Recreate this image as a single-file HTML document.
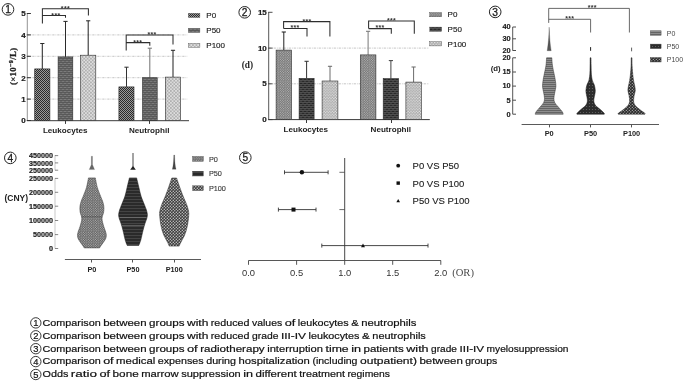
<!DOCTYPE html>
<html><head><meta charset="utf-8"><title>Figure</title>
<style>
html,body{margin:0;padding:0;background:#fff;}
body{width:685px;height:382px;overflow:hidden;}
svg{display:block;}
</style></head><body>
<svg width="685" height="382" viewBox="0 0 685 382">
<defs>
<pattern id="c1p0" width="2" height="2" patternUnits="userSpaceOnUse"><rect width="2" height="2" fill="#9a9a9a"/><rect width="1" height="1" fill="#2a2a2a"/><rect x="1" y="1" width="1" height="1" fill="#2a2a2a"/></pattern>
<pattern id="c1p50" width="4" height="4" patternUnits="userSpaceOnUse"><rect width="4" height="4" fill="#7c7c7c"/><path d="M0 0.4H4M0 2.4H4M1 0.4V2.4M3 2.4V4.4" stroke="#484848" stroke-width="0.7" fill="none"/></pattern>
<pattern id="c1p100" width="3.4" height="3.4" patternUnits="userSpaceOnUse"><rect width="3.4" height="3.4" fill="#b0b0b0"/><circle cx="0.9" cy="0.9" r="0.8" fill="#f2f2f2"/><circle cx="2.6" cy="2.6" r="0.8" fill="#f2f2f2"/></pattern>
<pattern id="c2p0" width="2.4" height="2.4" patternUnits="userSpaceOnUse"><rect width="2.4" height="2.4" fill="#6e6e6e"/><circle cx="0.6" cy="0.6" r="0.55" fill="#cfcfcf"/><circle cx="1.8" cy="1.8" r="0.55" fill="#cfcfcf"/></pattern>
<pattern id="c2p50" width="4" height="4" patternUnits="userSpaceOnUse"><rect width="4" height="4" fill="#262626"/><path d="M0 0.4H4M0 2.4H4M1 0.4V2.4M3 2.4V4.4" stroke="#6a6a6a" stroke-width="0.6" fill="none"/></pattern>
<pattern id="c2p100" width="2.8" height="2.8" patternUnits="userSpaceOnUse"><rect width="2.8" height="2.8" fill="#a6a6a6"/><circle cx="0.7" cy="0.7" r="0.75" fill="#e6e6e6"/><circle cx="2.1" cy="2.1" r="0.75" fill="#e6e6e6"/></pattern>
<pattern id="c3p0" width="2" height="2" patternUnits="userSpaceOnUse"><rect width="2" height="2" fill="#8e8e8e"/><rect width="2" height="1" fill="#646464"/></pattern>
<pattern id="c3p50" width="3" height="3" patternUnits="userSpaceOnUse"><rect width="3" height="3" fill="#2c2c2c"/><circle cx="1.5" cy="1.5" r="0.6" fill="#666"/></pattern>
<pattern id="c3p100" width="3" height="3" patternUnits="userSpaceOnUse"><rect width="3" height="3" fill="#2a2a2a"/><circle cx="0.8" cy="0.8" r="0.6" fill="#c8c8c8"/><circle cx="2.3" cy="2.3" r="0.6" fill="#c8c8c8"/></pattern>
<pattern id="c4p0" width="2.4" height="2.4" patternUnits="userSpaceOnUse"><rect width="2.4" height="2.4" fill="#585858"/><circle cx="0.6" cy="0.6" r="0.55" fill="#d0d0d0"/><circle cx="1.8" cy="1.8" r="0.55" fill="#d0d0d0"/></pattern>
<pattern id="c4p50" width="3" height="3" patternUnits="userSpaceOnUse"><rect width="3" height="3" fill="#2a2a2a"/><path d="M0 1.5H3" stroke="#555" stroke-width="0.6"/></pattern>
<pattern id="c4p100" width="3" height="3" patternUnits="userSpaceOnUse"><rect width="3" height="3" fill="#3c3c3c"/><circle cx="0.8" cy="0.8" r="0.72" fill="#c8c8c8"/><circle cx="2.3" cy="2.3" r="0.72" fill="#c8c8c8"/></pattern>
</defs>
<rect width="685" height="382" fill="#fff"/>

<g id="chart1">
<circle cx="8.0" cy="9.4" r="5.8" fill="none" stroke="#262626" stroke-width="1"/>
<text x="8.0" y="13.0" font-size="10.2" font-weight="normal" text-anchor="middle" fill="#222" font-family="'Liberation Sans', sans-serif" stroke="#222" stroke-width="0.3">1</text>
<line x1="27.3" y1="99.1" x2="187.5" y2="99.1" stroke="#9c9c9c" stroke-width="0.6" stroke-dasharray="2.2 1 0.8 1"/>
<line x1="27.3" y1="77.7" x2="187.5" y2="77.7" stroke="#9c9c9c" stroke-width="0.6" stroke-dasharray="2.2 1 0.8 1"/>
<line x1="27.3" y1="56.3" x2="187.5" y2="56.3" stroke="#9c9c9c" stroke-width="0.6" stroke-dasharray="2.2 1 0.8 1"/>
<line x1="27.3" y1="34.9" x2="187.5" y2="34.9" stroke="#9c9c9c" stroke-width="0.6" stroke-dasharray="2.2 1 0.8 1"/>
<line x1="27.3" y1="13.3" x2="27.3" y2="120.5" stroke="#777" stroke-width="0.8" />
<line x1="26.900000000000002" y1="120.7" x2="189" y2="120.7" stroke="#3a3a3a" stroke-width="1.0" />
<line x1="26.8" y1="120.5" x2="30.900000000000002" y2="120.5" stroke="#333" stroke-width="1" />
<text x="25.6" y="123.4" font-size="8.0" font-weight="bold" text-anchor="end" fill="#1c1c1c" font-family="'Liberation Sans', sans-serif" stroke="#1c1c1c" stroke-width="0.2">0</text>
<line x1="26.8" y1="99.1" x2="30.900000000000002" y2="99.1" stroke="#333" stroke-width="1" />
<text x="25.6" y="102.0" font-size="8.0" font-weight="bold" text-anchor="end" fill="#1c1c1c" font-family="'Liberation Sans', sans-serif" stroke="#1c1c1c" stroke-width="0.2">1</text>
<line x1="26.8" y1="77.7" x2="30.900000000000002" y2="77.7" stroke="#333" stroke-width="1" />
<text x="25.6" y="80.6" font-size="8.0" font-weight="bold" text-anchor="end" fill="#1c1c1c" font-family="'Liberation Sans', sans-serif" stroke="#1c1c1c" stroke-width="0.2">2</text>
<line x1="26.8" y1="56.3" x2="30.900000000000002" y2="56.3" stroke="#333" stroke-width="1" />
<text x="25.6" y="59.2" font-size="8.0" font-weight="bold" text-anchor="end" fill="#1c1c1c" font-family="'Liberation Sans', sans-serif" stroke="#1c1c1c" stroke-width="0.2">3</text>
<line x1="26.8" y1="34.9" x2="30.900000000000002" y2="34.9" stroke="#333" stroke-width="1" />
<text x="25.6" y="37.8" font-size="8.0" font-weight="bold" text-anchor="end" fill="#1c1c1c" font-family="'Liberation Sans', sans-serif" stroke="#1c1c1c" stroke-width="0.2">4</text>
<line x1="26.8" y1="13.5" x2="30.900000000000002" y2="13.5" stroke="#333" stroke-width="1" />
<text x="25.6" y="16.4" font-size="8.0" font-weight="bold" text-anchor="end" fill="#1c1c1c" font-family="'Liberation Sans', sans-serif" stroke="#1c1c1c" stroke-width="0.2">5</text>
<text transform="translate(16.0,66.3) rotate(-90)" font-size="8.8" font-weight="bold" text-anchor="middle" fill="#222" stroke="#222" stroke-width="0.3" font-family="'Liberation Serif', serif" letter-spacing="0.3">(×10<tspan dy="-3" font-size="6.2">−9</tspan><tspan dy="3">/L)</tspan></text>
<line x1="42.3" y1="43.5" x2="42.3" y2="68.9" stroke="#2a2a2a" stroke-width="1.05" />
<line x1="40.199999999999996" y1="43.5" x2="44.4" y2="43.5" stroke="#2a2a2a" stroke-width="1.05" />
<rect x="34.7" y="68.9" width="15.2" height="51.6" fill="url(#c1p0)" stroke="#2a2a2a" stroke-width="0.6"/>
<line x1="65.5" y1="21.4" x2="65.5" y2="56.9" stroke="#2a2a2a" stroke-width="1.05" />
<line x1="63.4" y1="21.4" x2="67.6" y2="21.4" stroke="#2a2a2a" stroke-width="1.05" />
<rect x="58.1" y="56.9" width="14.7" height="63.6" fill="url(#c1p50)" stroke="#2a2a2a" stroke-width="0.6"/>
<line x1="88.2" y1="20.8" x2="88.2" y2="55.2" stroke="#2a2a2a" stroke-width="1.05" />
<line x1="86.10000000000001" y1="20.8" x2="90.3" y2="20.8" stroke="#2a2a2a" stroke-width="1.05" />
<rect x="80.6" y="55.2" width="15.2" height="65.3" fill="url(#c1p100)" stroke="#2a2a2a" stroke-width="0.6"/>
<line x1="126.5" y1="67.2" x2="126.5" y2="86.9" stroke="#333" stroke-width="1.05" />
<line x1="124.4" y1="67.2" x2="128.6" y2="67.2" stroke="#333" stroke-width="1.05" />
<rect x="118.9" y="86.9" width="15.1" height="33.6" fill="url(#c1p0)" stroke="#2a2a2a" stroke-width="0.6"/>
<line x1="149.8" y1="48.2" x2="149.8" y2="77.7" stroke="#777" stroke-width="1.05" />
<line x1="147.70000000000002" y1="48.2" x2="151.9" y2="48.2" stroke="#777" stroke-width="1.05" />
<rect x="142.5" y="77.7" width="14.7" height="42.8" fill="url(#c1p50)" stroke="#2a2a2a" stroke-width="0.6"/>
<line x1="173.0" y1="50.3" x2="173.0" y2="77.1" stroke="#2a2a2a" stroke-width="1.05" />
<line x1="170.9" y1="50.3" x2="175.1" y2="50.3" stroke="#2a2a2a" stroke-width="1.05" />
<rect x="165.4" y="77.1" width="15.2" height="43.4" fill="url(#c1p100)" stroke="#2a2a2a" stroke-width="0.6"/>
<line x1="65.5" y1="120.5" x2="65.5" y2="123.9" stroke="#3a3a3a" stroke-width="1" />
<text x="65.2" y="133.4" font-size="8.1" font-weight="bold" text-anchor="middle" fill="#1c1c1c" font-family="'Liberation Sans', sans-serif" >Leukocytes</text>
<line x1="149.5" y1="120.5" x2="149.5" y2="123.9" stroke="#3a3a3a" stroke-width="1" />
<text x="149.2" y="133.4" font-size="8.1" font-weight="bold" text-anchor="middle" fill="#1c1c1c" font-family="'Liberation Sans', sans-serif" >Neutrophil</text>
<path d="M42.4 23.5V8.7H88.4V15.6M42.4 15.5H65.5V17.8" fill="none" stroke="#2e2e2e" stroke-width="1.05"/>
<text x="65.4" y="11.0" font-size="7" font-weight="bold" text-anchor="middle" fill="#333" font-family="'Liberation Sans', sans-serif" letter-spacing="0.3">***</text>
<text x="55.9" y="17.599999999999998" font-size="7" font-weight="bold" text-anchor="middle" fill="#333" font-family="'Liberation Sans', sans-serif" letter-spacing="0.3">***</text>
<path d="M126.2 50.5V35.0H173.0V44.5M126.2 42.6H149.8V45.8" fill="none" stroke="#2e2e2e" stroke-width="1.05"/>
<text x="152" y="37.3" font-size="7" font-weight="bold" text-anchor="middle" fill="#333" font-family="'Liberation Sans', sans-serif" letter-spacing="0.3">***</text>
<text x="137.7" y="44.699999999999996" font-size="7" font-weight="bold" text-anchor="middle" fill="#333" font-family="'Liberation Sans', sans-serif" letter-spacing="0.3">***</text>
<rect x="188.3" y="13.3" width="11.6" height="4.2" fill="url(#c1p0)" stroke="#555" stroke-width="0.4"/>
<text x="206.3" y="18.4" font-size="8.0" font-weight="normal" text-anchor="start" fill="#222" font-family="'Liberation Sans', sans-serif" stroke="#222" stroke-width="0.15">P0</text>
<rect x="188.3" y="28.3" width="11.6" height="4.2" fill="url(#c1p50)" stroke="#555" stroke-width="0.4"/>
<text x="206.3" y="33.4" font-size="8.0" font-weight="normal" text-anchor="start" fill="#222" font-family="'Liberation Sans', sans-serif" stroke="#222" stroke-width="0.15">P50</text>
<rect x="188.3" y="43.3" width="11.6" height="4.2" fill="url(#c1p100)" stroke="#555" stroke-width="0.4"/>
<text x="206.3" y="48.4" font-size="8.0" font-weight="normal" text-anchor="start" fill="#222" font-family="'Liberation Sans', sans-serif" stroke="#222" stroke-width="0.15">P100</text>
</g>
<g id="chart2">
<circle cx="244.7" cy="12.3" r="5.8" fill="none" stroke="#262626" stroke-width="1"/>
<text x="244.7" y="15.9" font-size="10.2" font-weight="normal" text-anchor="middle" fill="#222" font-family="'Liberation Sans', sans-serif" stroke="#222" stroke-width="0.3">2</text>
<line x1="268.7" y1="83.8" x2="429" y2="83.8" stroke="#9c9c9c" stroke-width="0.6" stroke-dasharray="2.2 1 0.8 1"/>
<line x1="268.7" y1="48.1" x2="429" y2="48.1" stroke="#9c9c9c" stroke-width="0.6" stroke-dasharray="2.2 1 0.8 1"/>
<line x1="268.7" y1="12.2" x2="268.7" y2="119.6" stroke="#444" stroke-width="0.9" />
<line x1="268.3" y1="119.6" x2="429.8" y2="119.6" stroke="#3a3a3a" stroke-width="1.0" />
<line x1="268.2" y1="119.6" x2="272.5" y2="119.6" stroke="#3a3a3a" stroke-width="0.9" />
<text x="266.8" y="122.0" font-size="8.0" font-weight="bold" text-anchor="end" fill="#1c1c1c" font-family="'Liberation Sans', sans-serif" stroke="#1c1c1c" stroke-width="0.2">0</text>
<line x1="268.2" y1="83.8" x2="272.5" y2="83.8" stroke="#3a3a3a" stroke-width="0.9" />
<text x="266.8" y="86.2" font-size="8.0" font-weight="bold" text-anchor="end" fill="#1c1c1c" font-family="'Liberation Sans', sans-serif" stroke="#1c1c1c" stroke-width="0.2">5</text>
<line x1="268.2" y1="48.1" x2="272.5" y2="48.1" stroke="#3a3a3a" stroke-width="0.9" />
<text x="266.8" y="50.5" font-size="8.0" font-weight="bold" text-anchor="end" fill="#1c1c1c" font-family="'Liberation Sans', sans-serif" stroke="#1c1c1c" stroke-width="0.2">10</text>
<line x1="268.2" y1="12.3" x2="272.5" y2="12.3" stroke="#3a3a3a" stroke-width="0.9" />
<text x="266.8" y="14.7" font-size="8.0" font-weight="bold" text-anchor="end" fill="#1c1c1c" font-family="'Liberation Sans', sans-serif" stroke="#1c1c1c" stroke-width="0.2">15</text>
<text x="247.4" y="67.8" font-size="9.3" font-weight="bold" text-anchor="middle" fill="#222" font-family="'Liberation Serif', serif" >(d)</text>
<line x1="283.8" y1="32.0" x2="283.8" y2="50.1" stroke="#222" stroke-width="1" />
<line x1="281.7" y1="32.0" x2="285.90000000000003" y2="32.0" stroke="#222" stroke-width="1.05" />
<rect x="276.1" y="50.1" width="15.4" height="69.5" fill="url(#c2p0)" stroke="#2a2a2a" stroke-width="0.6"/>
<line x1="306.6" y1="61.3" x2="306.6" y2="78.3" stroke="#333" stroke-width="1" />
<line x1="304.5" y1="61.3" x2="308.70000000000005" y2="61.3" stroke="#333" stroke-width="1.05" />
<rect x="299.1" y="78.3" width="15.0" height="41.3" fill="url(#c2p50)" stroke="#2a2a2a" stroke-width="0.6"/>
<line x1="330.0" y1="66.3" x2="330.0" y2="81.0" stroke="#6c6c6c" stroke-width="1" />
<line x1="327.9" y1="66.3" x2="332.1" y2="66.3" stroke="#6c6c6c" stroke-width="1.05" />
<rect x="322.1" y="81.0" width="15.8" height="38.6" fill="url(#c2p100)" stroke="#2a2a2a" stroke-width="0.6"/>
<line x1="368.1" y1="31.3" x2="368.1" y2="54.9" stroke="#777" stroke-width="1" />
<line x1="366.0" y1="31.3" x2="370.20000000000005" y2="31.3" stroke="#777" stroke-width="1.05" />
<rect x="360.3" y="54.9" width="15.6" height="64.7" fill="url(#c2p0)" stroke="#2a2a2a" stroke-width="0.6"/>
<line x1="390.9" y1="60.6" x2="390.9" y2="78.6" stroke="#444" stroke-width="1" />
<line x1="388.79999999999995" y1="60.6" x2="393.0" y2="60.6" stroke="#444" stroke-width="1.05" />
<rect x="383.2" y="78.6" width="15.4" height="41.0" fill="url(#c2p50)" stroke="#2a2a2a" stroke-width="0.6"/>
<line x1="413.6" y1="67.0" x2="413.6" y2="82.1" stroke="#6c6c6c" stroke-width="1" />
<line x1="411.5" y1="67.0" x2="415.70000000000005" y2="67.0" stroke="#6c6c6c" stroke-width="1.05" />
<rect x="405.9" y="82.1" width="15.4" height="37.5" fill="url(#c2p100)" stroke="#2a2a2a" stroke-width="0.6"/>
<line x1="306.5" y1="119.6" x2="306.5" y2="123.0" stroke="#3a3a3a" stroke-width="1" />
<text x="305.8" y="132.4" font-size="8.1" font-weight="bold" text-anchor="middle" fill="#1c1c1c" font-family="'Liberation Sans', sans-serif" >Leukocytes</text>
<line x1="391.5" y1="119.6" x2="391.5" y2="123.0" stroke="#3a3a3a" stroke-width="1" />
<text x="390.8" y="132.4" font-size="8.1" font-weight="bold" text-anchor="middle" fill="#1c1c1c" font-family="'Liberation Sans', sans-serif" >Neutrophil</text>
<path d="M283.6 28.4V21.6H329.9V36.6M283.6 28.4H307.0V36.6" fill="none" stroke="#2e2e2e" stroke-width="1.05"/>
<text x="307" y="23.599999999999998" font-size="7" font-weight="bold" text-anchor="middle" fill="#333" font-family="'Liberation Sans', sans-serif" letter-spacing="0.3">***</text>
<text x="295" y="30.2" font-size="7" font-weight="bold" text-anchor="middle" fill="#333" font-family="'Liberation Sans', sans-serif" letter-spacing="0.3">***</text>
<path d="M368.6 28.6V20.9H414.3V33.7M368.6 28.6H391.3V33.7" fill="none" stroke="#2e2e2e" stroke-width="1.05"/>
<text x="391.5" y="22.9" font-size="7" font-weight="bold" text-anchor="middle" fill="#333" font-family="'Liberation Sans', sans-serif" letter-spacing="0.3">***</text>
<text x="380" y="30.4" font-size="7" font-weight="bold" text-anchor="middle" fill="#333" font-family="'Liberation Sans', sans-serif" letter-spacing="0.3">***</text>
<rect x="429.8" y="12.6" width="11.8" height="4.2" fill="url(#c2p0)" stroke="#444" stroke-width="0.4"/>
<text x="447.6" y="17.4" font-size="8.0" font-weight="normal" text-anchor="start" fill="#222" font-family="'Liberation Sans', sans-serif" stroke="#222" stroke-width="0.15">P0</text>
<rect x="429.8" y="27.1" width="11.8" height="4.2" fill="url(#c2p50)" stroke="#444" stroke-width="0.4"/>
<text x="447.6" y="31.9" font-size="8.0" font-weight="normal" text-anchor="start" fill="#222" font-family="'Liberation Sans', sans-serif" stroke="#222" stroke-width="0.15">P50</text>
<rect x="429.8" y="41.7" width="11.8" height="4.2" fill="url(#c2p100)" stroke="#444" stroke-width="0.4"/>
<text x="447.6" y="46.5" font-size="8.0" font-weight="normal" text-anchor="start" fill="#222" font-family="'Liberation Sans', sans-serif" stroke="#222" stroke-width="0.15">P100</text>
</g>
<g id="chart3">
<circle cx="495.2" cy="11.9" r="5.8" fill="none" stroke="#262626" stroke-width="1"/>
<text x="495.2" y="15.5" font-size="10.2" font-weight="normal" text-anchor="middle" fill="#222" font-family="'Liberation Sans', sans-serif" stroke="#222" stroke-width="0.3">3</text>
<line x1="512.7" y1="27.0" x2="512.7" y2="50.6" stroke="#444" stroke-width="0.9" />
<line x1="512.7" y1="57.8" x2="512.7" y2="114.2" stroke="#444" stroke-width="0.9" />
<line x1="512.7" y1="27.0" x2="516.0" y2="27.0" stroke="#3a3a3a" stroke-width="0.9" />
<text x="510.7" y="29.3" font-size="7.4" font-weight="bold" text-anchor="end" fill="#1c1c1c" font-family="'Liberation Sans', sans-serif" stroke="#1c1c1c" stroke-width="0.15">40</text>
<line x1="512.7" y1="38.8" x2="516.0" y2="38.8" stroke="#3a3a3a" stroke-width="0.9" />
<text x="510.7" y="41.1" font-size="7.4" font-weight="bold" text-anchor="end" fill="#1c1c1c" font-family="'Liberation Sans', sans-serif" stroke="#1c1c1c" stroke-width="0.15">30</text>
<line x1="512.7" y1="50.5" x2="516.0" y2="50.5" stroke="#3a3a3a" stroke-width="0.9" />
<text x="510.7" y="52.8" font-size="7.4" font-weight="bold" text-anchor="end" fill="#1c1c1c" font-family="'Liberation Sans', sans-serif" stroke="#1c1c1c" stroke-width="0.15">20</text>
<line x1="512.7" y1="57.8" x2="516.0" y2="57.8" stroke="#3a3a3a" stroke-width="0.9" />
<text x="510.7" y="60.1" font-size="7.4" font-weight="bold" text-anchor="end" fill="#1c1c1c" font-family="'Liberation Sans', sans-serif" stroke="#1c1c1c" stroke-width="0.15">20</text>
<line x1="512.7" y1="72.0" x2="516.0" y2="72.0" stroke="#3a3a3a" stroke-width="0.9" />
<text x="510.7" y="74.3" font-size="7.4" font-weight="bold" text-anchor="end" fill="#1c1c1c" font-family="'Liberation Sans', sans-serif" stroke="#1c1c1c" stroke-width="0.15">15</text>
<line x1="512.7" y1="86.1" x2="516.0" y2="86.1" stroke="#3a3a3a" stroke-width="0.9" />
<text x="510.7" y="88.4" font-size="7.4" font-weight="bold" text-anchor="end" fill="#1c1c1c" font-family="'Liberation Sans', sans-serif" stroke="#1c1c1c" stroke-width="0.15">10</text>
<line x1="512.7" y1="100.2" x2="516.0" y2="100.2" stroke="#3a3a3a" stroke-width="0.9" />
<text x="510.7" y="102.5" font-size="7.4" font-weight="bold" text-anchor="end" fill="#1c1c1c" font-family="'Liberation Sans', sans-serif" stroke="#1c1c1c" stroke-width="0.15">5</text>
<line x1="512.7" y1="114.2" x2="516.0" y2="114.2" stroke="#3a3a3a" stroke-width="0.9" />
<text x="510.7" y="116.5" font-size="7.4" font-weight="bold" text-anchor="end" fill="#1c1c1c" font-family="'Liberation Sans', sans-serif" stroke="#1c1c1c" stroke-width="0.15">0</text>
<text x="495.7" y="71.0" font-size="7.8" font-weight="bold" text-anchor="middle" fill="#222" font-family="'Liberation Sans', sans-serif" >(d)</text>
<path d="M549.2 27.2C549.6 38 550.1 44 551.2 50.7H547.2C548.3000000000001 44 548.8000000000001 38 549.2 27.2Z" fill="#555" stroke="#444" stroke-width="0.3"/>
<path d="M551.80 57.80C551.92 59.17 552.08 63.17 552.50 66.00C552.92 68.83 553.82 72.35 554.30 74.80C554.78 77.25 555.13 78.75 555.40 80.70C555.67 82.65 556.00 84.55 555.90 86.50C555.80 88.45 555.13 90.43 554.80 92.40C554.47 94.37 553.90 96.58 553.90 98.30C553.90 100.02 554.07 101.25 554.80 102.70C555.53 104.15 557.08 105.53 558.30 107.00C559.52 108.47 561.30 110.38 562.10 111.50C562.90 112.62 562.92 113.25 563.10 113.70C563.28 114.15 563.18 114.12 563.20 114.20L535.20 114.20C535.22 114.12 535.12 114.15 535.30 113.70C535.48 113.25 535.50 112.62 536.30 111.50C537.10 110.38 538.88 108.47 540.10 107.00C541.32 105.53 542.87 104.15 543.60 102.70C544.33 101.25 544.50 100.02 544.50 98.30C544.50 96.58 543.93 94.37 543.60 92.40C543.27 90.43 542.60 88.45 542.50 86.50C542.40 84.55 542.73 82.65 543.00 80.70C543.27 78.75 543.62 77.25 544.10 74.80C544.58 72.35 545.48 68.83 545.90 66.00C546.32 63.17 546.48 59.17 546.60 57.80Z" fill="url(#c3p0)" stroke="#333" stroke-width="0.5"/>
<line x1="590.6" y1="47.1" x2="590.6" y2="50.8" stroke="#222" stroke-width="1.0" />
<path d="M591.00 57.80C591.02 59.17 591.03 63.17 591.10 66.00C591.17 68.83 591.18 72.35 591.40 74.80C591.62 77.25 591.92 79.00 592.40 80.70C592.88 82.40 593.82 83.28 594.30 85.00C594.78 86.72 595.30 89.03 595.30 91.00C595.30 92.97 594.55 95.10 594.30 96.80C594.05 98.50 593.57 99.73 593.80 101.20C594.03 102.67 594.52 104.13 595.70 105.60C596.88 107.07 599.50 108.73 600.90 110.00C602.30 111.27 603.53 112.50 604.10 113.20C604.67 113.90 604.27 114.03 604.30 114.20L576.90 114.20C576.93 114.03 576.53 113.90 577.10 113.20C577.67 112.50 578.90 111.27 580.30 110.00C581.70 108.73 584.32 107.07 585.50 105.60C586.68 104.13 587.17 102.67 587.40 101.20C587.63 99.73 587.15 98.50 586.90 96.80C586.65 95.10 585.90 92.97 585.90 91.00C585.90 89.03 586.42 86.72 586.90 85.00C587.38 83.28 588.32 82.40 588.80 80.70C589.28 79.00 589.58 77.25 589.80 74.80C590.02 72.35 590.03 68.83 590.10 66.00C590.17 63.17 590.18 59.17 590.20 57.80Z" fill="url(#c3p50)" stroke="#111" stroke-width="0.5"/>
<line x1="631.6" y1="47.6" x2="631.6" y2="51.3" stroke="#333" stroke-width="0.8" />
<path d="M632.00 57.80C632.02 59.17 631.97 63.17 632.10 66.00C632.23 68.83 632.55 72.35 632.80 74.80C633.05 77.25 633.32 79.00 633.60 80.70C633.88 82.40 634.22 83.42 634.50 85.00C634.78 86.58 635.35 88.48 635.30 90.20C635.25 91.92 634.48 93.47 634.20 95.30C633.92 97.13 633.42 99.48 633.60 101.20C633.78 102.92 634.17 104.13 635.30 105.60C636.43 107.07 638.82 108.73 640.40 110.00C641.98 111.27 644.03 112.50 644.80 113.20C645.57 113.90 644.97 114.03 645.00 114.20L618.20 114.20C618.23 114.03 617.63 113.90 618.40 113.20C619.17 112.50 621.22 111.27 622.80 110.00C624.38 108.73 626.77 107.07 627.90 105.60C629.03 104.13 629.42 102.92 629.60 101.20C629.78 99.48 629.28 97.13 629.00 95.30C628.72 93.47 627.95 91.92 627.90 90.20C627.85 88.48 628.42 86.58 628.70 85.00C628.98 83.42 629.32 82.40 629.60 80.70C629.88 79.00 630.15 77.25 630.40 74.80C630.65 72.35 630.97 68.83 631.10 66.00C631.23 63.17 631.18 59.17 631.20 57.80Z" fill="url(#c3p100)" stroke="#222" stroke-width="0.5"/>
<path d="M548.7 22.9V8.4H629.4V32.5M548.7 19.3H590.6V32.5" fill="none" stroke="#444" stroke-width="0.8"/>
<text x="592.3" y="10.1" font-size="7" font-weight="bold" text-anchor="middle" fill="#333" font-family="'Liberation Sans', sans-serif" letter-spacing="0.3">***</text>
<text x="569.8" y="20.7" font-size="7" font-weight="bold" text-anchor="middle" fill="#333" font-family="'Liberation Sans', sans-serif" letter-spacing="0.3">***</text>
<line x1="521.6" y1="124.5" x2="659" y2="124.5" stroke="#5a5a5a" stroke-width="1" />
<line x1="549.5" y1="124.5" x2="549.5" y2="127.4" stroke="#555" stroke-width="1" />
<text x="549.2" y="136.4" font-size="7.4" font-weight="bold" text-anchor="middle" fill="#222" font-family="'Liberation Sans', sans-serif" >P0</text>
<line x1="590.5" y1="124.5" x2="590.5" y2="127.4" stroke="#555" stroke-width="1" />
<text x="590.6" y="136.4" font-size="7.4" font-weight="bold" text-anchor="middle" fill="#222" font-family="'Liberation Sans', sans-serif" >P50</text>
<line x1="631.5" y1="124.5" x2="631.5" y2="127.4" stroke="#555" stroke-width="1" />
<text x="631.6" y="136.4" font-size="7.4" font-weight="bold" text-anchor="middle" fill="#222" font-family="'Liberation Sans', sans-serif" >P100</text>
<rect x="650.3" y="30.8" width="10.8" height="4.5" fill="url(#c3p0)" stroke="#444" stroke-width="0.4"/>
<text x="666.8" y="35.5" font-size="7.0" font-weight="normal" text-anchor="start" fill="#484848" font-family="'Liberation Sans', sans-serif" >P0</text>
<rect x="650.3" y="44.1" width="10.8" height="4.5" fill="url(#c3p50)" stroke="#444" stroke-width="0.4"/>
<text x="666.8" y="48.9" font-size="7.0" font-weight="normal" text-anchor="start" fill="#484848" font-family="'Liberation Sans', sans-serif" >P50</text>
<rect x="650.3" y="57.5" width="10.8" height="4.5" fill="url(#c3p100)" stroke="#444" stroke-width="0.4"/>
<text x="666.8" y="62.2" font-size="7.0" font-weight="normal" text-anchor="start" fill="#484848" font-family="'Liberation Sans', sans-serif" >P100</text>
</g>
<g id="chart4">
<circle cx="10.3" cy="157.9" r="5.8" fill="none" stroke="#262626" stroke-width="1"/>
<text x="10.3" y="161.5" font-size="10.2" font-weight="normal" text-anchor="middle" fill="#222" font-family="'Liberation Sans', sans-serif" stroke="#222" stroke-width="0.3">4</text>
<line x1="55.0" y1="155.0" x2="55.0" y2="170.4" stroke="#bbb" stroke-width="0.8" />
<line x1="55.0" y1="178.2" x2="55.0" y2="248.6" stroke="#bbb" stroke-width="0.8" />
<line x1="55.0" y1="155.6" x2="58.2" y2="155.6" stroke="#555" stroke-width="0.7" />
<text x="53.0" y="158.2" font-size="7.2" font-weight="bold" text-anchor="end" fill="#1c1c1c" font-family="'Liberation Sans', sans-serif" stroke="#1c1c1c" stroke-width="0.2">450000</text>
<line x1="55.0" y1="162.9" x2="58.2" y2="162.9" stroke="#555" stroke-width="0.7" />
<text x="53.0" y="165.5" font-size="7.2" font-weight="bold" text-anchor="end" fill="#1c1c1c" font-family="'Liberation Sans', sans-serif" stroke="#1c1c1c" stroke-width="0.2">350000</text>
<line x1="55.0" y1="170.2" x2="58.2" y2="170.2" stroke="#555" stroke-width="0.7" />
<text x="53.0" y="172.8" font-size="7.2" font-weight="bold" text-anchor="end" fill="#1c1c1c" font-family="'Liberation Sans', sans-serif" stroke="#1c1c1c" stroke-width="0.2">250000</text>
<line x1="55.0" y1="178.4" x2="58.2" y2="178.4" stroke="#555" stroke-width="0.7" />
<text x="53.0" y="181.0" font-size="7.2" font-weight="bold" text-anchor="end" fill="#1c1c1c" font-family="'Liberation Sans', sans-serif" stroke="#1c1c1c" stroke-width="0.2">250000</text>
<line x1="55.0" y1="192.3" x2="58.2" y2="192.3" stroke="#555" stroke-width="0.7" />
<text x="53.0" y="194.9" font-size="7.2" font-weight="bold" text-anchor="end" fill="#1c1c1c" font-family="'Liberation Sans', sans-serif" stroke="#1c1c1c" stroke-width="0.2">200000</text>
<line x1="55.0" y1="206.2" x2="58.2" y2="206.2" stroke="#555" stroke-width="0.7" />
<text x="53.0" y="208.8" font-size="7.2" font-weight="bold" text-anchor="end" fill="#1c1c1c" font-family="'Liberation Sans', sans-serif" stroke="#1c1c1c" stroke-width="0.2">150000</text>
<line x1="55.0" y1="220.5" x2="58.2" y2="220.5" stroke="#555" stroke-width="0.7" />
<text x="53.0" y="223.1" font-size="7.2" font-weight="bold" text-anchor="end" fill="#1c1c1c" font-family="'Liberation Sans', sans-serif" stroke="#1c1c1c" stroke-width="0.2">100000</text>
<line x1="55.0" y1="234.6" x2="58.2" y2="234.6" stroke="#555" stroke-width="0.7" />
<text x="53.0" y="237.2" font-size="7.2" font-weight="bold" text-anchor="end" fill="#1c1c1c" font-family="'Liberation Sans', sans-serif" stroke="#1c1c1c" stroke-width="0.2">50000</text>
<line x1="55.0" y1="248.5" x2="58.2" y2="248.5" stroke="#555" stroke-width="0.7" />
<text x="53.0" y="251.1" font-size="7.2" font-weight="bold" text-anchor="end" fill="#1c1c1c" font-family="'Liberation Sans', sans-serif" stroke="#1c1c1c" stroke-width="0.2">0</text>
<text x="16.3" y="201.2" font-size="8.5" font-weight="bold" text-anchor="middle" fill="#222" font-family="'Liberation Sans', sans-serif" >(CNY)</text>
<path d="M91.30000000000001 156.2H92.5V164.7L94.60000000000001 169.6H89.2L91.30000000000001 164.7Z" fill="#666" stroke="#666" stroke-width="0.2"/>
<path d="M95.30 177.90C95.63 179.48 96.43 184.38 97.30 187.40C98.17 190.42 99.63 193.73 100.50 196.00C101.37 198.27 101.95 199.33 102.50 201.00C103.05 202.67 103.60 204.18 103.80 206.00C104.00 207.82 104.00 209.82 103.70 211.90C103.40 213.98 102.00 216.10 102.00 218.50C102.00 220.90 103.08 224.05 103.70 226.30C104.32 228.55 105.27 230.47 105.70 232.00C106.13 233.53 106.33 234.33 106.30 235.50C106.27 236.67 106.07 237.75 105.50 239.00C104.93 240.25 103.70 241.83 102.90 243.00C102.10 244.17 101.25 245.18 100.70 246.00C100.15 246.82 99.78 247.58 99.60 247.90L84.20 247.90C84.02 247.58 83.65 246.82 83.10 246.00C82.55 245.18 81.70 244.17 80.90 243.00C80.10 241.83 78.87 240.25 78.30 239.00C77.73 237.75 77.53 236.67 77.50 235.50C77.47 234.33 77.67 233.53 78.10 232.00C78.53 230.47 79.48 228.55 80.10 226.30C80.72 224.05 81.80 220.90 81.80 218.50C81.80 216.10 80.40 213.98 80.10 211.90C79.80 209.82 79.80 207.82 80.00 206.00C80.20 204.18 80.75 202.67 81.30 201.00C81.85 199.33 82.43 198.27 83.30 196.00C84.17 193.73 85.63 190.42 86.50 187.40C87.37 184.38 88.17 179.48 88.50 177.90Z" fill="url(#c4p0)" stroke="#333" stroke-width="0.5"/>
<path d="M132.4 152.9H133.6V166.4H132.4Z" fill="#666"/><path d="M133.0 165.8L135.8 169.7H130.2Z" fill="#222"/>
<path d="M136.60 177.90C136.98 179.48 138.17 184.38 138.90 187.40C139.63 190.42 140.08 193.12 141.00 196.00C141.92 198.88 143.50 202.37 144.40 204.70C145.30 207.03 145.90 208.33 146.40 210.00C146.90 211.67 147.37 213.20 147.40 214.70C147.43 216.20 147.03 217.45 146.60 219.00C146.17 220.55 145.40 222.07 144.80 224.00C144.20 225.93 143.63 228.07 143.00 230.60C142.37 233.13 141.53 237.13 141.00 239.20C140.47 241.27 140.17 241.97 139.80 243.00C139.43 244.03 138.97 245.00 138.80 245.40L127.20 245.40C127.03 245.00 126.57 244.03 126.20 243.00C125.83 241.97 125.53 241.27 125.00 239.20C124.47 237.13 123.63 233.13 123.00 230.60C122.37 228.07 121.80 225.93 121.20 224.00C120.60 222.07 119.83 220.55 119.40 219.00C118.97 217.45 118.57 216.20 118.60 214.70C118.63 213.20 119.10 211.67 119.60 210.00C120.10 208.33 120.70 207.03 121.60 204.70C122.50 202.37 124.08 198.88 125.00 196.00C125.92 193.12 126.37 190.42 127.10 187.40C127.83 184.38 129.02 179.48 129.40 177.90Z" fill="url(#c4p50)" stroke="#111" stroke-width="0.5"/>
<path d="M173.79999999999998 155H174.6C174.79999999999998 162 175.2 166 176.1 169.3H172.29999999999998C173.2 166 173.6 162 173.79999999999998 155Z" fill="#444" stroke="#444" stroke-width="0.2"/>
<path d="M176.60 178.00C177.13 179.57 178.73 184.40 179.80 187.40C180.87 190.40 181.85 193.12 183.00 196.00C184.15 198.88 185.82 202.37 186.70 204.70C187.58 207.03 187.95 208.53 188.30 210.00C188.65 211.47 188.77 212.17 188.80 213.50C188.83 214.83 188.68 216.25 188.50 218.00C188.32 219.75 188.08 221.90 187.70 224.00C187.32 226.10 186.78 228.60 186.20 230.60C185.62 232.60 184.93 234.35 184.20 236.00C183.47 237.65 182.50 239.17 181.80 240.50C181.10 241.83 180.43 243.07 180.00 244.00C179.57 244.93 179.33 245.75 179.20 246.10L169.20 246.10C169.07 245.75 168.83 244.93 168.40 244.00C167.97 243.07 167.30 241.83 166.60 240.50C165.90 239.17 164.93 237.65 164.20 236.00C163.47 234.35 162.78 232.60 162.20 230.60C161.62 228.60 161.08 226.10 160.70 224.00C160.32 221.90 160.08 219.75 159.90 218.00C159.72 216.25 159.57 214.83 159.60 213.50C159.63 212.17 159.75 211.47 160.10 210.00C160.45 208.53 160.82 207.03 161.70 204.70C162.58 202.37 164.25 198.88 165.40 196.00C166.55 193.12 167.53 190.40 168.60 187.40C169.67 184.40 171.27 179.57 171.80 178.00Z" fill="url(#c4p100)" stroke="#222" stroke-width="0.5"/>
<line x1="81.7" y1="216.8" x2="102.10000000000001" y2="216.8" stroke="#3a3a3a" stroke-width="0.9" opacity="0.55"/>
<line x1="119.4" y1="217.4" x2="146.6" y2="217.4" stroke="#9a9a9a" stroke-width="0.7" opacity="0.7"/>
<line x1="121.8" y1="225.4" x2="144.2" y2="225.4" stroke="#9a9a9a" stroke-width="0.7" opacity="0.7"/>
<line x1="64.9" y1="259.5" x2="201" y2="259.5" stroke="#5a5a5a" stroke-width="1" />
<line x1="91.5" y1="259.5" x2="91.5" y2="262.5" stroke="#555" stroke-width="1" />
<text x="91.9" y="272.2" font-size="7.3" font-weight="bold" text-anchor="middle" fill="#222" font-family="'Liberation Sans', sans-serif" >P0</text>
<line x1="132.5" y1="259.5" x2="132.5" y2="262.5" stroke="#555" stroke-width="1" />
<text x="133.0" y="272.2" font-size="7.3" font-weight="bold" text-anchor="middle" fill="#222" font-family="'Liberation Sans', sans-serif" >P50</text>
<line x1="174.5" y1="259.5" x2="174.5" y2="262.5" stroke="#555" stroke-width="1" />
<text x="174.2" y="272.2" font-size="7.3" font-weight="bold" text-anchor="middle" fill="#222" font-family="'Liberation Sans', sans-serif" >P100</text>
<rect x="192.6" y="156.5" width="10.7" height="4.8" fill="url(#c4p0)" stroke="#444" stroke-width="0.4"/>
<text x="208.9" y="161.5" font-size="7.3" font-weight="normal" text-anchor="start" fill="#333" font-family="'Liberation Sans', sans-serif" stroke="#333" stroke-width="0.1">P0</text>
<rect x="192.6" y="171.2" width="10.7" height="4.8" fill="url(#c4p50)" stroke="#444" stroke-width="0.4"/>
<text x="208.9" y="176.2" font-size="7.3" font-weight="normal" text-anchor="start" fill="#333" font-family="'Liberation Sans', sans-serif" stroke="#333" stroke-width="0.1">P50</text>
<rect x="192.6" y="185.8" width="10.7" height="4.8" fill="url(#c4p100)" stroke="#444" stroke-width="0.4"/>
<text x="208.9" y="190.8" font-size="7.3" font-weight="normal" text-anchor="start" fill="#333" font-family="'Liberation Sans', sans-serif" stroke="#333" stroke-width="0.1">P100</text>
</g>
<g id="chart5">
<circle cx="245.3" cy="157.6" r="5.8" fill="none" stroke="#262626" stroke-width="1"/>
<text x="245.3" y="161.2" font-size="10.2" font-weight="normal" text-anchor="middle" fill="#222" font-family="'Liberation Sans', sans-serif" stroke="#222" stroke-width="0.3">5</text>
<line x1="344.7" y1="158.0" x2="344.7" y2="260.5" stroke="#333" stroke-width="0.9" />
<line x1="248.5" y1="260.5" x2="440.9" y2="260.5" stroke="#444" stroke-width="0.9" />
<line x1="248.5" y1="260.5" x2="248.5" y2="264.8" stroke="#444" stroke-width="0.9" />
<text x="248.5" y="276.2" font-size="9.4" font-weight="normal" text-anchor="middle" fill="#333" font-family="'Liberation Sans', sans-serif" >0.0</text>
<line x1="296.6" y1="260.5" x2="296.6" y2="264.8" stroke="#444" stroke-width="0.9" />
<text x="296.6" y="276.2" font-size="9.4" font-weight="normal" text-anchor="middle" fill="#333" font-family="'Liberation Sans', sans-serif" >0.5</text>
<line x1="344.7" y1="260.5" x2="344.7" y2="264.8" stroke="#444" stroke-width="0.9" />
<text x="344.7" y="276.2" font-size="9.4" font-weight="normal" text-anchor="middle" fill="#333" font-family="'Liberation Sans', sans-serif" >1.0</text>
<line x1="392.7" y1="260.5" x2="392.7" y2="264.8" stroke="#444" stroke-width="0.9" />
<text x="392.7" y="276.2" font-size="9.4" font-weight="normal" text-anchor="middle" fill="#333" font-family="'Liberation Sans', sans-serif" >1.5</text>
<line x1="440.8" y1="260.5" x2="440.8" y2="264.8" stroke="#444" stroke-width="0.9" />
<text x="440.8" y="276.2" font-size="9.4" font-weight="normal" text-anchor="middle" fill="#333" font-family="'Liberation Sans', sans-serif" >2.0</text>
<text x="452.2" y="276.2" font-size="10.6" font-weight="normal" text-anchor="start" fill="#4a4a4a" font-family="'Liberation Serif', serif" >(OR)</text>
<line x1="339.4" y1="172.3" x2="344.7" y2="172.3" stroke="#444" stroke-width="0.8" />
<line x1="339.4" y1="209.6" x2="344.7" y2="209.6" stroke="#444" stroke-width="0.8" />
<line x1="284.5" y1="172.3" x2="328.1" y2="172.3" stroke="#333" stroke-width="0.9" />
<line x1="284.5" y1="170.3" x2="284.5" y2="174.3" stroke="#333" stroke-width="0.9" />
<line x1="328.1" y1="170.3" x2="328.1" y2="174.3" stroke="#333" stroke-width="0.9" />
<circle cx="301.9" cy="172.3" r="2.2" fill="#111"/>
<line x1="278.4" y1="209.6" x2="316.0" y2="209.6" stroke="#333" stroke-width="0.9" />
<line x1="278.4" y1="207.6" x2="278.4" y2="211.6" stroke="#333" stroke-width="0.9" />
<line x1="316.0" y1="207.6" x2="316.0" y2="211.6" stroke="#333" stroke-width="0.9" />
<rect x="291.5" y="207.6" width="4" height="4" fill="#111"/>
<line x1="321.8" y1="245.6" x2="428.0" y2="245.6" stroke="#333" stroke-width="0.9" />
<line x1="321.8" y1="243.6" x2="321.8" y2="247.6" stroke="#333" stroke-width="0.9" />
<line x1="428.0" y1="243.6" x2="428.0" y2="247.6" stroke="#333" stroke-width="0.9" />
<path d="M363 243.6L365 247.2H361Z" fill="#111"/>
<circle cx="398.2" cy="165.7" r="1.9" fill="#111"/>
<rect x="396.5" y="181.4" width="3.4" height="3.4" fill="#111"/>
<path d="M398.2 198.9L400 202.2H396.4Z" fill="#111"/>
<text x="412.6" y="169.1" font-size="9.5" font-weight="normal" text-anchor="start" fill="#222" font-family="'Liberation Sans', sans-serif" stroke="#222" stroke-width="0.12">P0 VS P50</text>
<text x="412.6" y="186.7" font-size="9.5" font-weight="normal" text-anchor="start" fill="#222" font-family="'Liberation Sans', sans-serif" stroke="#222" stroke-width="0.12">P0 VS P100</text>
<text x="412.6" y="204.1" font-size="9.5" font-weight="normal" text-anchor="start" fill="#222" font-family="'Liberation Sans', sans-serif" stroke="#222" stroke-width="0.12">P50 VS P100</text>
</g>
<g id="caption">
<circle cx="35.8" cy="322.9" r="5.2" fill="none" stroke="#222" stroke-width="0.9"/>
<text x="35.8" y="326.2" font-size="9.4" font-weight="normal" text-anchor="middle" fill="#111" font-family="'Liberation Sans', sans-serif" stroke="#111" stroke-width="0.2">1</text>
<text y="325.7" font-size="9.9" fill="#111" stroke="#111" stroke-width="0.2" font-family="'Liberation Sans', sans-serif"><tspan x="42.5" textLength="58.2" lengthAdjust="spacingAndGlyphs">Comparison</tspan> <tspan x="103.2" textLength="43.4" lengthAdjust="spacingAndGlyphs">between</tspan> <tspan x="149.1" textLength="35.4" lengthAdjust="spacingAndGlyphs">groups</tspan> <tspan x="187" textLength="21.3" lengthAdjust="spacingAndGlyphs">with</tspan> <tspan x="210.8" textLength="38.7" lengthAdjust="spacingAndGlyphs">reduced</tspan> <tspan x="252" textLength="30.2" lengthAdjust="spacingAndGlyphs">values</tspan> <tspan x="284.7" textLength="10.6" lengthAdjust="spacingAndGlyphs">of</tspan> <tspan x="297.8" textLength="50.9" lengthAdjust="spacingAndGlyphs">leukocytes</tspan> <tspan x="351.2" textLength="7.5" lengthAdjust="spacingAndGlyphs">&amp;</tspan> <tspan x="361.2" textLength="55.3" lengthAdjust="spacingAndGlyphs">neutrophils</tspan></text>
<circle cx="35.8" cy="335.8" r="5.2" fill="none" stroke="#222" stroke-width="0.9"/>
<text x="35.8" y="339.1" font-size="9.4" font-weight="normal" text-anchor="middle" fill="#111" font-family="'Liberation Sans', sans-serif" stroke="#111" stroke-width="0.2">2</text>
<text y="338.6" font-size="9.9" fill="#111" stroke="#111" stroke-width="0.2" font-family="'Liberation Sans', sans-serif"><tspan x="42.5" textLength="58.2" lengthAdjust="spacingAndGlyphs">Comparison</tspan> <tspan x="103.2" textLength="43.4" lengthAdjust="spacingAndGlyphs">between</tspan> <tspan x="149.1" textLength="35.4" lengthAdjust="spacingAndGlyphs">groups</tspan> <tspan x="187" textLength="21.3" lengthAdjust="spacingAndGlyphs">with</tspan> <tspan x="210.8" textLength="38.7" lengthAdjust="spacingAndGlyphs">reduced</tspan> <tspan x="252" textLength="26.4" lengthAdjust="spacingAndGlyphs">grade</tspan> <tspan x="280.9" textLength="25.2" lengthAdjust="spacingAndGlyphs">III-IV</tspan> <tspan x="308.6" textLength="50.9" lengthAdjust="spacingAndGlyphs">leukocytes</tspan> <tspan x="362" textLength="7.8" lengthAdjust="spacingAndGlyphs">&amp;</tspan> <tspan x="372.3" textLength="53.5" lengthAdjust="spacingAndGlyphs">neutrophils</tspan></text>
<circle cx="35.8" cy="348.7" r="5.2" fill="none" stroke="#222" stroke-width="0.9"/>
<text x="35.8" y="352.0" font-size="9.4" font-weight="normal" text-anchor="middle" fill="#111" font-family="'Liberation Sans', sans-serif" stroke="#111" stroke-width="0.2">3</text>
<text y="351.5" font-size="9.9" fill="#111" stroke="#111" stroke-width="0.2" font-family="'Liberation Sans', sans-serif"><tspan x="42.5" textLength="58.2" lengthAdjust="spacingAndGlyphs">Comparison</tspan> <tspan x="103.2" textLength="43.4" lengthAdjust="spacingAndGlyphs">between</tspan> <tspan x="149.1" textLength="35.4" lengthAdjust="spacingAndGlyphs">groups</tspan> <tspan x="187" textLength="10.7" lengthAdjust="spacingAndGlyphs">of</tspan> <tspan x="200.2" textLength="64.5" lengthAdjust="spacingAndGlyphs">radiotherapy</tspan> <tspan x="267.2" textLength="55.8" lengthAdjust="spacingAndGlyphs">interruption</tspan> <tspan x="325.5" textLength="23.2" lengthAdjust="spacingAndGlyphs">time</tspan> <tspan x="351.2" textLength="9.8" lengthAdjust="spacingAndGlyphs">in</tspan> <tspan x="363.5" textLength="40.3" lengthAdjust="spacingAndGlyphs">patients</tspan> <tspan x="406.3" textLength="22.3" lengthAdjust="spacingAndGlyphs">with</tspan> <tspan x="431.1" textLength="25.8" lengthAdjust="spacingAndGlyphs">grade</tspan> <tspan x="459.4" textLength="24.7" lengthAdjust="spacingAndGlyphs">III-IV</tspan> <tspan x="486.6" textLength="81.9" lengthAdjust="spacingAndGlyphs">myelosuppression</tspan></text>
<circle cx="35.8" cy="361.6" r="5.2" fill="none" stroke="#222" stroke-width="0.9"/>
<text x="35.8" y="364.9" font-size="9.4" font-weight="normal" text-anchor="middle" fill="#111" font-family="'Liberation Sans', sans-serif" stroke="#111" stroke-width="0.2">4</text>
<text y="364.4" font-size="9.9" fill="#111" stroke="#111" stroke-width="0.2" font-family="'Liberation Sans', sans-serif"><tspan x="42.5" textLength="58.2" lengthAdjust="spacingAndGlyphs">Comparison</tspan> <tspan x="103.2" textLength="10.4" lengthAdjust="spacingAndGlyphs">of</tspan> <tspan x="116.1" textLength="39.2" lengthAdjust="spacingAndGlyphs">medical</tspan> <tspan x="157.8" textLength="45.9" lengthAdjust="spacingAndGlyphs">expenses</tspan> <tspan x="206.2" textLength="29.8" lengthAdjust="spacingAndGlyphs">during</tspan> <tspan x="238.5" textLength="71.4" lengthAdjust="spacingAndGlyphs">hospitalization</tspan> <tspan x="312.4" textLength="45.1" lengthAdjust="spacingAndGlyphs">(including</tspan> <tspan x="360" textLength="56.9" lengthAdjust="spacingAndGlyphs">outpatient)</tspan> <tspan x="419.4" textLength="43.4" lengthAdjust="spacingAndGlyphs">between</tspan> <tspan x="465.3" textLength="31.9" lengthAdjust="spacingAndGlyphs">groups</tspan></text>
<circle cx="35.8" cy="374.5" r="5.2" fill="none" stroke="#222" stroke-width="0.9"/>
<text x="35.8" y="377.8" font-size="9.4" font-weight="normal" text-anchor="middle" fill="#111" font-family="'Liberation Sans', sans-serif" stroke="#111" stroke-width="0.2">5</text>
<text y="377.3" font-size="9.9" fill="#111" stroke="#111" stroke-width="0.2" font-family="'Liberation Sans', sans-serif"><tspan x="42.5" textLength="25.8" lengthAdjust="spacingAndGlyphs">Odds</tspan> <tspan x="70.8" textLength="26.2" lengthAdjust="spacingAndGlyphs">ratio</tspan> <tspan x="99.5" textLength="10.6" lengthAdjust="spacingAndGlyphs">of</tspan> <tspan x="112.6" textLength="26.1" lengthAdjust="spacingAndGlyphs">bone</tspan> <tspan x="141.2" textLength="37.5" lengthAdjust="spacingAndGlyphs">marrow</tspan> <tspan x="181.2" textLength="59.5" lengthAdjust="spacingAndGlyphs">suppression</tspan> <tspan x="243.2" textLength="9.8" lengthAdjust="spacingAndGlyphs">in</tspan> <tspan x="255.5" textLength="41.3" lengthAdjust="spacingAndGlyphs">different</tspan> <tspan x="299.3" textLength="45.6" lengthAdjust="spacingAndGlyphs">treatment</tspan> <tspan x="347.4" textLength="42.6" lengthAdjust="spacingAndGlyphs">regimens</tspan></text>
</g>
</svg></body></html>
